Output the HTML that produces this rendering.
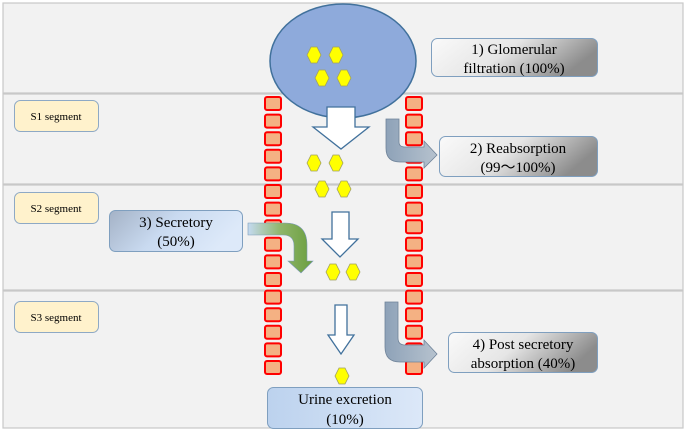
<!DOCTYPE html>
<html><head><meta charset="utf-8"><style>
body{margin:0;background:#fff;}
svg{display:block;font-family:"Liberation Serif",serif;}
</style></head><body>
<svg width="685" height="431" viewBox="0 0 685 431" xmlns="http://www.w3.org/2000/svg">
<defs>
<linearGradient id="gw" x1="0" y1="0" x2="1" y2="0.3"><stop offset="0" stop-color="#fafafa"/><stop offset="0.5" stop-color="#e6e6e6"/><stop offset="1" stop-color="#8c8c8c"/></linearGradient>
<linearGradient id="gb" x1="0" y1="0" x2="1" y2="0.3"><stop offset="0" stop-color="#a4b2c6"/><stop offset="0.5" stop-color="#c9daf0"/><stop offset="1" stop-color="#dde9f9"/></linearGradient>
<linearGradient id="gu" x1="0" y1="0" x2="1" y2="0"><stop offset="0" stop-color="#bcd2ee"/><stop offset="1" stop-color="#dce8f8"/></linearGradient>
<linearGradient id="gg" x1="0" y1="0" x2="1" y2="0"><stop offset="0" stop-color="#c4daf0"/><stop offset="0.5" stop-color="#8fb56a"/><stop offset="1" stop-color="#6a9e3e"/></linearGradient>
<linearGradient id="ga" x1="0" y1="0" x2="1" y2="0"><stop offset="0" stop-color="#8ea2b8"/><stop offset="1" stop-color="#b6c2ce"/></linearGradient>
</defs>
<rect width="685" height="431" fill="#fff"/>
<g fill="#f2f2f2" stroke="#c8c8c8" stroke-width="1.2">
<rect x="3" y="3" width="680" height="90"/>
<rect x="3" y="94" width="680" height="90"/>
<rect x="3" y="185" width="680" height="105"/>
<rect x="3" y="291" width="680" height="137"/>
</g>
<g fill="#fff2cc" stroke="#8ea9c5" stroke-width="1">
<rect x="14.5" y="100.5" width="84" height="31" rx="6"/>
<rect x="14.5" y="192.5" width="84" height="31" rx="6"/>
<rect x="14.5" y="301.5" width="84" height="31" rx="6"/>
</g>
<g font-size="11" fill="#000" text-anchor="middle">
<text x="56" y="120">S1 segment</text>
<text x="56" y="212">S2 segment</text>
<text x="56" y="321">S3 segment</text>
</g>
<g fill="#f4b183" stroke="#ff0000" stroke-width="2">
<rect x="265" y="97" width="16" height="13" rx="2"/><rect x="265" y="114.6" width="16" height="13" rx="2"/><rect x="265" y="132.2" width="16" height="13" rx="2"/><rect x="265" y="149.8" width="16" height="13" rx="2"/><rect x="265" y="167.4" width="16" height="13" rx="2"/><rect x="265" y="185" width="16" height="13" rx="2"/><rect x="265" y="202.6" width="16" height="13" rx="2"/><rect x="265" y="220.2" width="16" height="13" rx="2"/><rect x="265" y="237.8" width="16" height="13" rx="2"/><rect x="265" y="255.4" width="16" height="13" rx="2"/><rect x="265" y="273" width="16" height="13" rx="2"/><rect x="265" y="290.6" width="16" height="13" rx="2"/><rect x="265" y="308.2" width="16" height="13" rx="2"/><rect x="265" y="325.8" width="16" height="13" rx="2"/><rect x="265" y="343.4" width="16" height="13" rx="2"/><rect x="265" y="361" width="16" height="13" rx="2"/>
<rect x="406" y="97" width="16" height="13" rx="2"/><rect x="406" y="114.6" width="16" height="13" rx="2"/><rect x="406" y="132.2" width="16" height="13" rx="2"/><rect x="406" y="149.8" width="16" height="13" rx="2"/><rect x="406" y="167.4" width="16" height="13" rx="2"/><rect x="406" y="185" width="16" height="13" rx="2"/><rect x="406" y="202.6" width="16" height="13" rx="2"/><rect x="406" y="220.2" width="16" height="13" rx="2"/><rect x="406" y="237.8" width="16" height="13" rx="2"/><rect x="406" y="255.4" width="16" height="13" rx="2"/><rect x="406" y="273" width="16" height="13" rx="2"/><rect x="406" y="290.6" width="16" height="13" rx="2"/><rect x="406" y="308.2" width="16" height="13" rx="2"/><rect x="406" y="325.8" width="16" height="13" rx="2"/><rect x="406" y="343.4" width="16" height="13" rx="2"/><rect x="406" y="361" width="16" height="13" rx="2"/>
</g>
<ellipse cx="343" cy="61" rx="73" ry="57" fill="#8eaadb" stroke="#41719c" stroke-width="1.5"/>
<g fill="#fff" stroke="#41719c" stroke-width="1.3">
<path d="M327,107 H355 V127 H369 L341,149 L313,127 H327 Z"/>
<path d="M332,212 H349 V239 H358 L340,257 L322,239 H332 Z"/>
<path d="M335,305 H347 V335 H354 L341,354 L328,335 H335 Z"/>
</g>
<g fill="#ffff00" stroke="#a0a060" stroke-width="0.8">
<path d="M307,55 l4,-8 h6 l4,8 l-4,8 h-6 z"/>
<path d="M329,55 l4,-8 h6 l4,8 l-4,8 h-6 z"/>
<path d="M315,78 l4,-8 h6 l4,8 l-4,8 h-6 z"/>
<path d="M337,78 l4,-8 h6 l4,8 l-4,8 h-6 z"/>
<path d="M307,163 l4,-8 h6 l4,8 l-4,8 h-6 z"/>
<path d="M329,163 l4,-8 h6 l4,8 l-4,8 h-6 z"/>
<path d="M315,189 l4,-8 h6 l4,8 l-4,8 h-6 z"/>
<path d="M337,189 l4,-8 h6 l4,8 l-4,8 h-6 z"/>
<path d="M326,272 l4,-8 h6 l4,8 l-4,8 h-6 z"/>
<path d="M346,272 l4,-8 h6 l4,8 l-4,8 h-6 z"/>
<path d="M335,376 l4,-8 h6 l4,8 l-4,8 h-6 z"/>
</g>
<g fill="url(#ga)" stroke="#6f8399" stroke-width="0.8">
<path d="M386,119 H399 V142 Q399,147 405,147 H424 V141 L437,155 L424,168 V162 H400 Q386,162 386,148 Z"/>
<path d="M385,302 H398 V338 Q398,345 405,345 H424 V340 L437,354 L424,368 V362 H400 Q385,362 385,347 Z"/>
</g>
<path d="M248,223 H285 Q307,223 307,245 V261 H313 L301,273 L288,261 H294 V246 Q294,235 283,235 H248 Z" fill="url(#gg)" stroke="#7a9ab8" stroke-width="0.6"/>
<g stroke="#7f9fbf" stroke-width="1">
<rect x="431.5" y="38.5" width="166" height="38" rx="6" fill="url(#gw)"/>
<rect x="439.5" y="136.5" width="158" height="40" rx="6" fill="url(#gw)"/>
<rect x="448.5" y="332.5" width="149" height="40" rx="6" fill="url(#gw)"/>
<rect x="109.5" y="210.5" width="133" height="41" rx="6" fill="url(#gb)"/>
<rect x="267.5" y="387.5" width="155" height="41" rx="6" fill="url(#gu)"/>
</g>
<g font-size="15" fill="#000" text-anchor="middle">
<text x="514" y="54">1) Glomerular</text>
<text x="514" y="73">filtration (100%)</text>
<text x="518" y="153">2) Reabsorption</text>
<text x="518" y="172">(99～100%)</text>
<text x="523" y="349">4) Post secretory</text>
<text x="523" y="368">absorption (40%)</text>
<text x="176" y="227">3) Secretory</text>
<text x="176" y="246">(50%)</text>
<text x="345" y="404">Urine excretion</text>
<text x="345" y="424">(10%)</text>
</g>
</svg>
</body></html>
